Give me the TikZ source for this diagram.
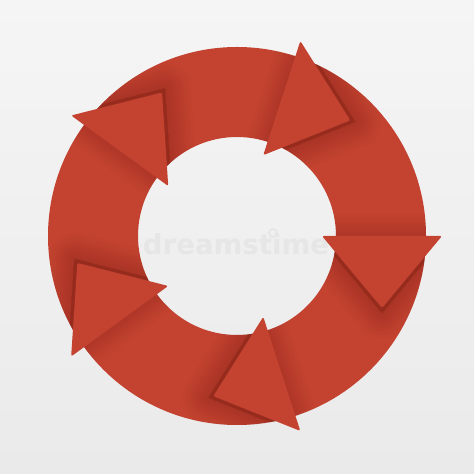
\documentclass[tikz,border=0pt]{standalone}
\usepackage{fontspec}
\newfontfamily\wmfont{DejaVu Sans}
\definecolor{ringred}{RGB}{196,67,48}
\definecolor{shadowred}{RGB}{110,28,18}
\definecolor{bgtop}{RGB}{245,245,246}
\definecolor{bgbot}{RGB}{234,234,235}
\definecolor{wmgray}{RGB}{230,230,231}
\begin{document}
\begin{tikzpicture}[x=0.5pt,y=0.5pt,
  headshape/.style={fill=ringred, rounded corners=1pt},
  shadowstroke/.style={draw=shadowred, fill=shadowred, line join=round, opacity=0.035}]
\useasboundingbox (-237,-238) rectangle (237,236);
\shade[top color=bgtop,bottom color=bgbot] (-237,-238) rectangle (237,236);
% watermark
\node[text=wmgray, font=\wmfont\bfseries\fontsize{13.8}{14}\selectfont] (wm) at (-1,-8) {dreamstime};
\draw[wmgray, line width=1pt] (36,3) circle (4);
% ring
\fill[ringred, even odd rule] (0,0) circle (189) (0,0) circle (99);
% shadows cast by the arrow heads onto the ring
\begin{scope}[even odd rule]
  \clip (0,0) circle (189) (0,0) circle (99);
  \foreach \a in {144,72,0,-72,-144} {
    \begin{scope}[shift={(\a-90:5)}]
      \foreach \w in {26,22,18,15,12,9,6,3,1} {
        \path[shadowstroke, line width=\w pt]
          (\a:205) -- ([shift={(\a-90:72)}] \a:145) -- (\a:85) -- cycle;
      }
    \end{scope}
  }
\end{scope}
% arrow heads
\foreach \a/\n in {144/h1,72/h2,0/h3,-72/h4,-144/h5} {
  \coordinate (\n o) at (\a:205);
  \coordinate (\n t) at ([shift={(\a-90:72)}] \a:145);
  \coordinate (\n i) at (\a:85);
  \fill[headshape] (\n o) -- (\n t) -- (\n i) -- cycle;
}
\end{tikzpicture}
\end{document}
